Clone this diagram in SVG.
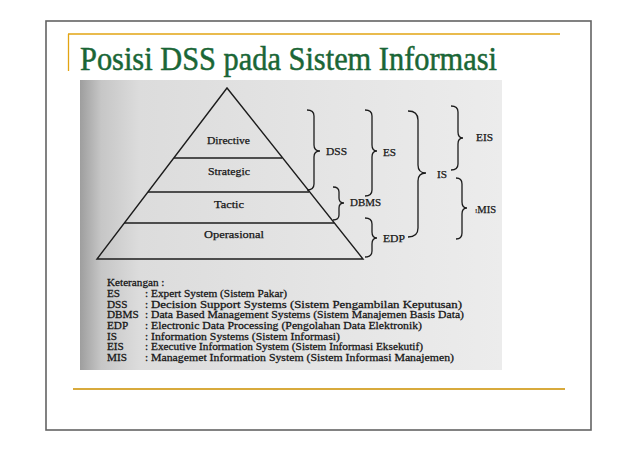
<svg xmlns="http://www.w3.org/2000/svg" width="638" height="451" viewBox="0 0 638 451">
<defs>
<linearGradient id="paper" x1="0" y1="0" x2="1" y2="0">
<stop offset="0" stop-color="#9e9e9e"/>
<stop offset="0.05" stop-color="#c6c6c6"/>
<stop offset="0.14" stop-color="#dcdcdc"/>
<stop offset="0.6" stop-color="#e5e5e5"/>
<stop offset="1" stop-color="#ececec"/>
</linearGradient>
<style>
.ink{fill:none;stroke:#1c1c1c;stroke-width:1.4;stroke-linejoin:miter}
.br{fill:none;stroke:#1c1c1c;stroke-width:1.3}
.t{font-family:"Liberation Serif","Times New Roman",serif;font-size:10.5px;fill:#161616;stroke:#161616;stroke-width:0.25}
.lg{font-family:"Liberation Serif","Times New Roman",serif;font-size:11.2px;fill:#161616;stroke:#161616;stroke-width:0.28}
.title{font-family:"Liberation Serif","Times New Roman",serif;font-size:34px;fill:#1a6636;stroke:#1a6636;stroke-width:0.5}
</style>
</defs>
<rect x="0" y="0" width="638" height="451" fill="#ffffff"/>
<rect x="46" y="21" width="545" height="409" fill="#ffffff" stroke="#636363" stroke-width="1.6"/>
<line x1="68" y1="34" x2="560" y2="34" stroke="#e2a412" stroke-width="1.5"/>
<line x1="68.5" y1="34" x2="68.5" y2="71" stroke="#e2a412" stroke-width="1.3"/>
<text class="title" x="80" y="70" textLength="417" lengthAdjust="spacingAndGlyphs">Posisi DSS pada Sistem Informasi</text>
<line x1="73" y1="389" x2="565" y2="389" stroke="#d8aa3c" stroke-width="2"/>

<rect x="80" y="80" width="422" height="290" fill="url(#paper)"/>

<g id="pyramid">
<path class="ink" d="M227,88 L97,259 L363,259 Z"/>
</g>
<g id="level-directive">
<text class="t" x="207" y="143.5" textLength="43" lengthAdjust="spacingAndGlyphs">Directive</text>
</g>
<g id="level-strategic">
<line class="ink" x1="174" y1="158" x2="282" y2="158"/>
<text class="t" x="208" y="175" textLength="42" lengthAdjust="spacingAndGlyphs">Strategic</text>
</g>
<g id="level-tactic">
<line class="ink" x1="148" y1="192" x2="309" y2="192"/>
<text class="t" x="214" y="207.5" textLength="30" lengthAdjust="spacingAndGlyphs">Tactic</text>
</g>
<g id="level-operasional">
<line class="ink" x1="124" y1="223" x2="334" y2="223"/>
<text class="t" x="204" y="238" textLength="60" lengthAdjust="spacingAndGlyphs">Operasional</text>
</g>

<g id="connectors">
<path class="br" d="M307,110 Q314,110 314,116 L314,145 Q314,151 320,151 Q314,151 314,157 L314,184 Q314,190 307,190"/>
<path class="br" d="M365,110 Q372,110 372,116 L372,145 Q372,151 377,151 Q372,151 372,157 L372,190 Q372,196 365,196"/>
<path class="br" d="M333,187 Q339,187 339,192 L339,198 Q339,203 344,203 Q339,203 339,208 L339,215 Q339,220 333,220"/>
<path class="br" d="M365,218 Q372,218 372,224 L372,232 Q372,238 377,238 Q372,238 372,244 L372,251 Q372,257 365,257"/>
<path class="br" d="M408,111 Q418,111 418,120 L418,165 Q418,173 426,173 Q418,173 418,181 L418,228 Q418,237 408,237"/>
<path class="br" d="M451,106 Q458,106 458,112 L458,132 Q458,138 463,138 Q458,138 458,144 L458,164 Q458,170 451,170"/>
<path class="br" d="M456,178 Q462,178 462,184 L462,202 Q462,208 467,208 Q462,208 462,214 L462,233 Q462,239 456,239"/>
</g>

<g id="dss"><text class="t" x="326" y="155" textLength="21" lengthAdjust="spacingAndGlyphs">DSS</text></g>
<g id="es"><text class="t" x="383" y="155.5" textLength="13" lengthAdjust="spacingAndGlyphs">ES</text></g>
<g id="dbms"><text class="t" x="350" y="206" textLength="31" lengthAdjust="spacingAndGlyphs">DBMS</text></g>
<g id="edp"><text class="t" x="383" y="242" textLength="22" lengthAdjust="spacingAndGlyphs">EDP</text></g>
<g id="is"><text class="t" x="437" y="178" textLength="10" lengthAdjust="spacingAndGlyphs">IS</text></g>
<g id="eis"><text class="t" x="476" y="141" textLength="17" lengthAdjust="spacingAndGlyphs">EIS</text></g>
<g id="mis"><text class="t" x="475" y="213"><tspan font-size="7">!</tspan>MIS</text></g>

<g id="legend">
<text class="lg" x="107" y="286">Keterangan :</text>
<text class="lg" x="107" y="297">ES</text>
<text class="lg" x="107" y="307.5">DSS</text>
<text class="lg" x="107" y="318">DBMS</text>
<text class="lg" x="107" y="329">EDP</text>
<text class="lg" x="107" y="339.5">IS</text>
<text class="lg" x="107" y="350">EIS</text>
<text class="lg" x="107" y="360.5">MIS</text>
<text class="lg" x="145" y="297">:</text>
<text class="lg" x="145" y="307.5">:</text>
<text class="lg" x="145" y="318">:</text>
<text class="lg" x="145" y="329">:</text>
<text class="lg" x="145" y="339.5">:</text>
<text class="lg" x="145" y="350">:</text>
<text class="lg" x="145" y="360.5">:</text>
<text class="lg" x="151" y="297" textLength="136" lengthAdjust="spacingAndGlyphs">Expert System (Sistem Pakar)</text>
<text class="lg" x="151" y="307.5" textLength="311" lengthAdjust="spacingAndGlyphs">Decision Support Systems (Sistem Pengambilan Keputusan)</text>
<text class="lg" x="151" y="318" textLength="313" lengthAdjust="spacingAndGlyphs">Data Based Management Systems (Sistem Manajemen Basis Data)</text>
<text class="lg" x="151" y="329" textLength="271" lengthAdjust="spacingAndGlyphs">Electronic Data Processing (Pengolahan Data Elektronik)</text>
<text class="lg" x="151" y="339.5" textLength="189" lengthAdjust="spacingAndGlyphs">Information Systems (Sistem Informasi)</text>
<text class="lg" x="151" y="350" textLength="272" lengthAdjust="spacingAndGlyphs">Executive Information System (Sistem Informasi Eksekutif)</text>
<text class="lg" x="151" y="360.5" textLength="303" lengthAdjust="spacingAndGlyphs">Managemet Information System (Sistem Informasi Manajemen)</text>
</g>
</svg>
